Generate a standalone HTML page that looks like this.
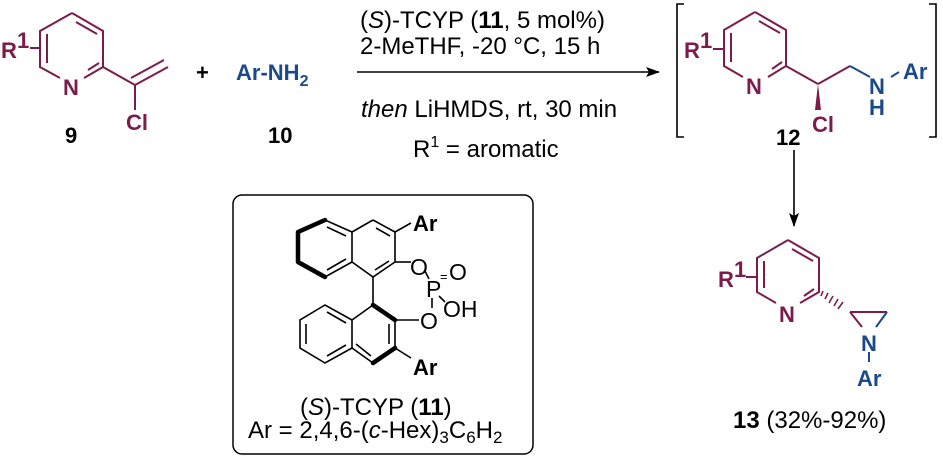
<!DOCTYPE html>
<html><head><meta charset="utf-8"><style>
html,body{margin:0;padding:0;background:#fff;}
svg{display:block;font-family:"Liberation Sans",Arial,sans-serif;}
.m{stroke:#7b1c4c;stroke-width:2;fill:none;}
.b{stroke:#1a4a8a;stroke-width:2;fill:none;}
.k{stroke:#000;stroke-width:1.6;fill:none;}
.kb{stroke:#000;stroke-width:4.5;fill:none;stroke-linecap:round;stroke-linejoin:round;}
.tm{fill:#7b1c4c;font-weight:bold;font-size:22px;}
.tb{fill:#1a4a8a;font-weight:bold;font-size:22px;}
.t{fill:#000;font-size:24px;}
.tk{fill:#000;font-weight:bold;font-size:22px;}
</style></head><body>
<svg width="943" height="460" viewBox="0 0 943 460">
<defs><marker id="ah" markerWidth="14" markerHeight="10" refX="13" refY="5" orient="auto" markerUnits="userSpaceOnUse"><path d="M0,0 L14,5 L0,10 L3,5 Z" fill="#000"/></marker></defs>

<!-- compound 9 -->
<g class="m">
<polyline points="72,13 103,31 103,67 84,78"/>
<polyline points="60,78 40,67 40,31 72,13"/>
<line x1="76" y1="22" x2="97" y2="34"/>
<line x1="47" y1="34" x2="47" y2="63"/>
<line x1="88" y1="70" x2="99" y2="63"/>
<line x1="103" y1="67" x2="135" y2="85"/>
<line x1="135" y1="85" x2="168" y2="67"/>
<line x1="131" y1="78" x2="164" y2="60"/>
<line x1="135" y1="85" x2="135" y2="110"/>
<line x1="30" y1="48" x2="40" y2="48"/>
</g>
<text class="tm" x="1" y="58">R</text><text class="tm" x="17" y="48" font-size="15">1</text>
<text class="tm" x="63" y="95">N</text>
<text class="tm" x="126" y="130">Cl</text>
<text class="tk" x="65" y="143">9</text>
<text class="tk" x="196" y="80">+</text>
<text class="tb" x="236" y="80">Ar-NH<tspan font-size="16" dy="6">2</tspan></text>
<text class="tk" x="268" y="143">10</text>

<!-- conditions -->
<line x1="357" y1="72" x2="659" y2="72" stroke="#000" stroke-width="1.6" marker-end="url(#ah)"/>
<text class="t" x="360" y="28" font-size="25">(<tspan font-style="italic">S</tspan>)-TCYP  (<tspan font-weight="bold">11</tspan>, 5 mol%)</text>
<text class="t" x="360" y="54" font-size="26">2-MeTHF, -20 °C, 15 h</text>
<text class="t" x="361" y="117" font-size="25"><tspan font-style="italic">then</tspan> LiHMDS, rt, 30 min</text>
<text class="t" x="413" y="157" font-size="25">R<tspan font-size="16" dy="-10">1</tspan><tspan dy="10"> = aromatic</tspan></text>

<!-- brackets -->
<polyline class="k" points="684,4 677,4 677,137 684,137"/>
<polyline class="k" points="929,4 936,4 936,137 929,137"/>

<!-- compound 12 -->
<g class="m">
<polyline points="755,12 786,30 786,66 768,77"/>
<polyline points="743,77 724,66 724,30 755,12"/>
<line x1="759" y1="21" x2="780" y2="33"/>
<line x1="731" y1="33" x2="731" y2="62"/>
<line x1="772" y1="69" x2="782" y2="62"/>
<line x1="786" y1="66" x2="818" y2="84"/>
<line x1="818" y1="84" x2="850" y2="66"/>
<line x1="713" y1="49" x2="724" y2="49"/>
</g>
<polygon points="818,84 815,110 821,110" fill="#7b1c4c"/>
<polyline class="b" points="850,66 870,77"/>
<line class="b" x1="891" y1="77" x2="899" y2="72"/>
<text class="tm" x="684" y="58">R</text><text class="tm" x="700" y="48" font-size="15">1</text>
<text class="tm" x="746" y="94">N</text>
<text class="tm" x="812" y="132">Cl</text>
<text class="tb" x="869" y="94">N</text>
<text class="tb" x="869" y="115">H</text>
<text class="tb" x="903" y="79">Ar</text>
<text class="tk" x="776" y="145">12</text>

<line x1="794" y1="150" x2="794" y2="226" stroke="#000" stroke-width="1.6" marker-end="url(#ah)"/>

<!-- compound 13 -->
<g class="m">
<polyline points="788,240 819,258 819,292 800,303"/>
<polyline points="776,303 757,292 757,258 788,240"/>
<line x1="792" y1="249" x2="813" y2="261"/>
<line x1="764" y1="261" x2="764" y2="288"/>
<line x1="804" y1="296" x2="814" y2="289"/>
<line x1="746" y1="277" x2="757" y2="277"/>
</g>
<g stroke="#7b1c4c" stroke-width="1.6">
<line x1="823" y1="291" x2="821" y2="296"/>
<line x1="828" y1="293" x2="825" y2="299"/>
<line x1="833" y1="296" x2="829" y2="303"/>
<line x1="838" y1="299" x2="834" y2="306"/>
<line x1="843" y1="302" x2="838" y2="309"/>
</g>
<line class="m" x1="850" y1="312" x2="887" y2="312"/>
<line class="m" x1="850" y1="312" x2="862" y2="327"/>
<line class="b" x1="887" y1="312" x2="876" y2="327"/>
<line class="b" x1="869" y1="352" x2="869" y2="362"/>
<text class="tm" x="718" y="287">R</text><text class="tm" x="734" y="277" font-size="15">1</text>
<text class="tm" x="779" y="322">N</text>
<text class="tb" x="861" y="351">N</text>
<text class="tb" x="857" y="386">Ar</text>
<text class="t" x="733" y="428"><tspan font-weight="bold">13</tspan> (32%-92%)</text>

<!-- catalyst box -->
<rect x="233" y="195" width="300" height="259" rx="9" ry="9" fill="none" stroke="#000" stroke-width="1.5"/>
<g class="k">
<polyline points="373,220 395,232 395,262 373,277 352,262 352,232 373,220"/>
<polyline points="352,232 325,220 298,232 298,262 325,277 352,262"/>
<line x1="376" y1="228" x2="390" y2="236"/>
<line x1="389" y1="261" x2="375" y2="270"/>
<line x1="327" y1="227" x2="346" y2="236"/>
<line x1="327" y1="270" x2="346" y2="259"/>
<line x1="395" y1="232" x2="411" y2="223"/>
<line x1="395" y1="262" x2="411" y2="262"/>
<line x1="373" y1="277" x2="373" y2="305"/>
<polyline points="373,305 395,320 395,348 373,363 352,348 352,320 373,305"/>
<polyline points="352,320 325,305 300,320 300,348 325,363 352,348"/>
<line x1="389" y1="324" x2="389" y2="344"/>
<line x1="356" y1="344" x2="371" y2="356"/>
<line x1="327" y1="312" x2="346" y2="323"/>
<line x1="306" y1="324" x2="306" y2="344"/>
<line x1="327" y1="356" x2="346" y2="345"/>
<line x1="395" y1="320" x2="419" y2="320"/>
<line x1="395" y1="348" x2="411" y2="358"/>
<line x1="432" y1="298" x2="432" y2="308"/>
<line x1="425" y1="271" x2="429" y2="279"/>
<line x1="439" y1="296" x2="445" y2="302"/>
</g>
<polyline class="kb" points="325,220 298,232 298,262 325,277"/>
<polyline class="kb" points="373,305 395,320"/>
<polyline class="kb" points="395,348 373,363"/>
<text x="413" y="231" font-size="22" font-weight="bold">Ar</text>
<text x="410" y="275" font-size="23">O</text>
<text x="426" y="297" font-size="23">P</text>
<text x="440" y="281" font-size="13">=</text>
<text x="449" y="280" font-size="23">O</text>
<text x="443" y="317" font-size="23">OH</text>
<text x="420" y="329" font-size="23">O</text>
<text x="413" y="375" font-size="22" font-weight="bold">Ar</text>
<text class="t" x="300" y="415">(<tspan font-style="italic">S</tspan>)-TCYP (<tspan font-weight="bold">11</tspan>)</text>
<text class="t" x="248" y="438" font-size="25">Ar = 2,4,6-(<tspan font-style="italic">c</tspan>-Hex)<tspan font-size="17" dy="5">3</tspan><tspan dy="-5">C</tspan><tspan font-size="17" dy="5">6</tspan><tspan dy="-5">H</tspan><tspan font-size="17" dy="5">2</tspan></text>
</svg>
</body></html>
